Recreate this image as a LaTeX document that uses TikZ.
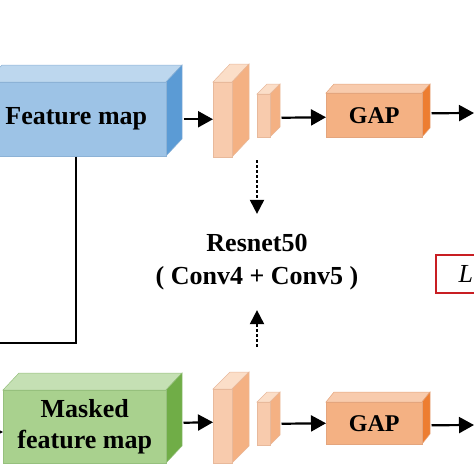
\documentclass[tikz,border=0pt]{standalone}
\usepackage{fontspec}
\setmainfont{Liberation Serif}
\usetikzlibrary{arrows.meta}
\definecolor{bfront}{RGB}{157,195,230}
\definecolor{btop}{RGB}{189,215,238}
\definecolor{bside}{RGB}{91,155,213}
\definecolor{bedge}{RGB}{140,178,214}
\definecolor{gfront}{RGB}{169,209,142}
\definecolor{gtop}{RGB}{197,224,180}
\definecolor{gside}{RGB}{112,173,71}
\definecolor{gedge}{RGB}{150,192,125}
\definecolor{sfront}{RGB}{248,203,173}
\definecolor{stop}{RGB}{251,222,200}
\definecolor{sside}{RGB}{244,177,131}
\definecolor{sedge}{RGB}{232,185,155}
\definecolor{afront}{RGB}{244,177,131}
\definecolor{atop}{RGB}{248,203,173}
\definecolor{aside}{RGB}{237,125,49}
\definecolor{aedge}{RGB}{228,165,125}
\definecolor{redc}{RGB}{200,30,35}
\newcommand\mkcuboid[9]{%
  \filldraw[fill=#8top, draw=#8edge, line width=0.5pt] (#2,#3) -- ({#2+#6},{#3-#7}) -- ({#4+#6},{#3-#7}) -- (#4,#3) -- cycle;
  \filldraw[fill=#8side, draw=#8edge, line width=0.5pt] (#4,#3) -- ({#4+#6},{#3-#7}) -- ({#4+#6},{#5-#7}) -- (#4,#5) -- cycle;
  \node[boxtxt, fill=#8front, draw=#8edge, line width=0.5pt, inner sep=0pt, anchor=north west,
        minimum width={(#4-#2)*1pt}, minimum height={(#5-#3)*1pt}] (#1) at (#2,#3) {#9};
}
\begin{document}
\begin{tikzpicture}[x=1pt,y=-1pt,
  arr/.style={line width=2.2pt, -{Triangle[length=15pt,width=16pt]}},
  darr/.style={line width=2pt, dash pattern=on 3pt off 2pt, -{Triangle[length=14pt,width=14pt]}},
  conn/.style={line width=2pt},
  boxtxt/.style={font=\fontsize{26}{31}\selectfont\bfseries, align=center, text=black}]
\useasboundingbox (0,0) rectangle (474,474);
\clip (0,0) rectangle (474,474);
% top row
\mkcuboid{fm}{-14}{82}{166}{156}{16}{17}{b}{Feature map}
\mkcuboid{sl1}{213}{82}{232}{157}{17}{18}{s}{}
\mkcuboid{ss1}{257}{94}{270}{137}{10}{10}{s}{}
\mkcuboid{ga1}{326}{93}{422}{137}{8}{9}{a}{\fontsize{24}{28}\selectfont GAP}
% bottom row
\mkcuboid{mf}{3}{390}{166}{463}{16}{17}{g}{Masked\\feature map}
\mkcuboid{sl2}{213}{389}{232}{463}{17}{17}{s}{}
\mkcuboid{ss2}{257}{402}{270}{445}{10}{10}{s}{}
\mkcuboid{ga2}{326}{402}{422}{444}{8}{10}{a}{\fontsize{24}{28}\selectfont GAP}
% middle text
\node[font=\fontsize{26}{33}\selectfont\bfseries, align=center, inner xsep=0pt, inner ysep=20pt] (res) at (257,262) {Resnet50\\( Conv4 + Conv5 )};
\node[draw=redc, line width=1.6pt, minimum width=60pt, minimum height=38pt, anchor=north west,
      font=\fontsize{26}{30}\selectfont\itshape] (loss) at (435,254) {L};
% coordinates for free ends
\coordinate (dtop) at (257,160);
\coordinate (dbot) at (257,347);
\coordinate (outL) at (-10,343);
\coordinate (inM) at (-20,432);
\coordinate (o1) at (474,113);
\coordinate (o2) at (474,425);
% connectors top
\draw[arr] ([xshift=17pt]fm.east) -- (sl1.west |- fm.east);
\draw[arr] ([xshift=11pt,yshift=-2pt]ss1.east) -- ([yshift=-2pt]ga1.west);
\draw[arr] ([xshift=9pt,yshift=2pt]ga1.east) -- (o1);
% connectors bottom
\draw[arr] ([xshift=17pt,yshift=4pt]mf.east) -- ([yshift=4pt]sl2.west);
\draw[arr] ([xshift=11pt]ss2.east) -- (ga2.west);
\draw[arr] ([xshift=9pt,yshift=-2pt]ga2.east) -- (o2);
\draw[arr] (inM) -- (inM -| mf.west);
% side connector
\draw[conn] (fm.south) |- (outL);
% dotted arrows
\draw[darr] (dtop) -- (res.north);
\draw[darr] (dbot) -- (res.south);
\end{tikzpicture}
\end{document}
